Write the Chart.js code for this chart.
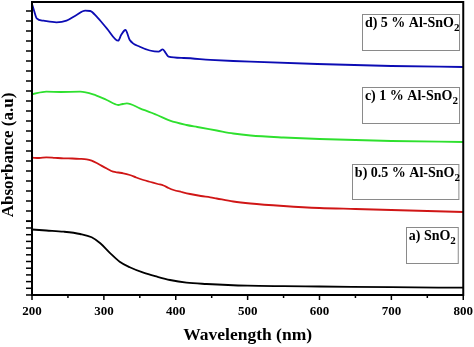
<!DOCTYPE html>
<html>
<head>
<meta charset="utf-8">
<script src="https://cdn.jsdelivr.net/npm/chart.js@4.4.1/dist/chart.umd.min.js"></script>
<style>
  html, body { margin: 0; padding: 0; background: #fff; }
  #wrap { width: 474px; height: 347px; }
</style>
</head>
<body>
<div id="wrap"><canvas id="c1"></canvas></div>
<script>
// wavelength (nm) / absorbance (a.u, offset curves)
var nmA  = [200,220,244,267,283,295,309,322,336,355,374,392,415,443,500,550,600,700,800];
var absA = [0.655,0.645,0.633,0.61,0.577,0.517,0.417,0.333,0.277,0.223,0.183,0.15,0.123,0.11,0.093,0.088,0.085,0.078,0.073];

var nmB  = [200,210,220,232,244,256,266,276,283,290,295,304,313,320,327,336,345,355,365,375,383,390,397,408,420,435,448,457,480,504,550,600,650,700,750,800];
var absB = [1.373,1.37,1.377,1.372,1.367,1.365,1.362,1.357,1.343,1.32,1.30,1.265,1.233,1.225,1.217,1.20,1.175,1.15,1.13,1.11,1.095,1.07,1.05,1.03,1.01,0.99,0.977,0.965,0.935,0.915,0.89,0.87,0.86,0.85,0.84,0.83];

var nmC  = [200,220,240,267,285,304,320,326,332,350,374,392,415,430,457,480,504,550,600,700,800];
var absC = [2.007,2.033,2.03,2.033,2.007,1.95,1.90,1.91,1.917,1.867,1.80,1.743,1.70,1.68,1.645,1.615,1.595,1.575,1.56,1.54,1.53];

var nmD  = [200,203,206.5,216,234,248,262,274,281,290,304,320,324,330,336,350,376,382,386,390,411,448,480,504,597,700,800];
var absD = [2.91,2.84,2.767,2.743,2.727,2.743,2.80,2.843,2.84,2.783,2.667,2.543,2.60,2.65,2.55,2.483,2.433,2.457,2.42,2.383,2.37,2.352,2.34,2.333,2.31,2.29,2.28];

var xTicks = [200,300,400,500,600,700,800];

// curve labels: text, subscript, box corners (nm / absorbance)
var boxText = ['a) SnO', 'b) 0.5 % Al-SnO', 'c) 1 % Al-SnO', 'd) 5 % Al-SnO'];
var boxX1 = [720, 645, 659, 659];
var boxX2 = [792, 793, 794, 794];
var boxY1 = [0.68, 1.31, 2.08, 2.81];
var boxY2 = [0.32, 0.96, 1.72, 2.45];

function pts(xs, ys) {
  var out = [];
  for (var i = 0; i < xs.length; i++) out.push({x: xs[i], y: ys[i]});
  return out;
}

var serif = "'Liberation Serif', 'Times New Roman', serif";

var decor = {
  id: 'decor',
  afterDatasetsDraw: function(chart) {
    var ctx = chart.ctx, a = chart.chartArea;
    var xs = chart.scales.x, ys = chart.scales.y;
    ctx.save();
    ctx.strokeStyle = '#000';
    ctx.lineWidth = 2;
    ctx.strokeRect(a.left, a.top, a.right - a.left, a.bottom - a.top);

    // x ticks, major every 100, minor every 50
    ctx.lineWidth = 1.5;
    for (var w = 200; w <= 800; w += 50) {
      var px = xs.getPixelForValue(w);
      var len = (w % 100 === 0) ? 5 : 3;
      ctx.beginPath();
      ctx.moveTo(px, a.bottom);
      ctx.lineTo(px, a.bottom + len);
      ctx.stroke();
    }
    // y ticks (no labels), denser near the bottom
    var yt = [];
    for (var v = 0; v < 0.74; v += 0.067) yt.push(v);
    for (var v2 = 0.74; v2 <= 2.93; v2 += 0.1) yt.push(v2);
    yt.forEach(function(v) {
      var py = ys.getPixelForValue(v);
      ctx.beginPath();
      ctx.moveTo(a.left - 6, py);
      ctx.lineTo(a.left, py);
      ctx.stroke();
    });

    // label boxes
    ctx.textBaseline = 'alphabetic';
    ctx.textAlign = 'left';
    for (var i = 0; i < boxText.length; i++) {
      var x1 = xs.getPixelForValue(boxX1[i]), x2 = xs.getPixelForValue(boxX2[i]);
      var y1 = ys.getPixelForValue(boxY1[i]), y2 = ys.getPixelForValue(boxY2[i]);
      ctx.strokeStyle = '#8a8a8a';
      ctx.lineWidth = 1;
      ctx.strokeRect(Math.round(x1) + 0.5, Math.round(y1) + 0.5, x2 - x1, y2 - y1);
      ctx.fillStyle = '#000';
      ctx.font = 'bold 14px ' + serif;
      ctx.fillText(boxText[i], x1 + 3, y1 + 13);
      var tw = ctx.measureText(boxText[i]).width;
      ctx.font = 'bold 11px ' + serif;
      ctx.fillText('2', x1 + 3 + tw, y1 + 17);
    }

    // axis titles
    ctx.fillStyle = '#000';
    ctx.font = 'bold 17.5px ' + serif;
    ctx.textAlign = 'center';
    ctx.textBaseline = 'middle';
    ctx.fillText('Wavelength (nm)', (a.left + a.right) / 2, 335);
    ctx.save();
    ctx.translate(9, 155);
    ctx.rotate(-Math.PI / 2);
    ctx.font = 'bold 17px ' + serif;
    ctx.fillText('Absorbance (a.u)', 0, 0);
    ctx.restore();
    ctx.restore();
  }
};

var ctx = document.getElementById('c1').getContext('2d');
var chart1 = new Chart(ctx, {
  type: 'line',
  data: {
    datasets: [
      { label: 'a) SnO2', data: pts(nmA, absA), borderColor: '#000000' },
      { label: 'b) 0.5 % Al-SnO2', data: pts(nmB, absB), borderColor: '#d01616' },
      { label: 'c) 1 % Al-SnO2', data: pts(nmC, absC), borderColor: '#2ee02e' },
      { label: 'd) 5 % Al-SnO2', data: pts(nmD, absD), borderColor: '#0c0cb4' }
    ]
  },
  options: {
    responsive: true,
    maintainAspectRatio: false,
    animation: false,
    layout: { padding: { top: 2, right: 0, left: 0, bottom: 0 } },
    elements: {
      point: { radius: 0 },
      line: { borderWidth: 1.8, cubicInterpolationMode: 'monotone', fill: false }
    },
    plugins: { legend: { display: false }, tooltip: { enabled: false } },
    scales: {
      x: {
        type: 'linear', min: 200, max: 800,
        afterBuildTicks: function(s) { s.ticks = xTicks.map(function(v) { return {value: v}; }); },
        ticks: { color: '#000', padding: 1, maxRotation: 0, font: { family: serif, size: 13, weight: 'bold' } },
        grid: { display: false },
        border: { display: false },
        afterFit: function(s) { s.height = 52; }
      },
      y: {
        min: 0, max: 2.93,
        ticks: { display: false },
        grid: { display: false },
        border: { display: false },
        afterFit: function(s) { s.width = 32; }
      }
    }
  },
  plugins: [decor]
});
</script>
</body>
</html>
